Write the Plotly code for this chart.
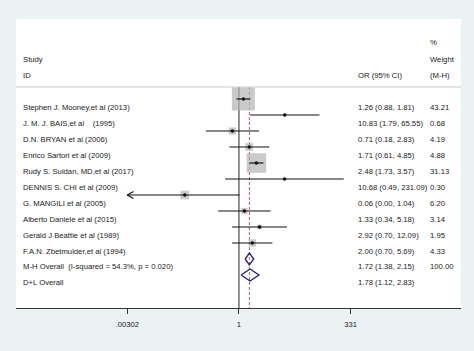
import math
import plotly.graph_objects as go

# ---------------- data ----------------
studies = [
    "Stephen J. Mooney,et al (2013)",
    "J. M. J. BAIS,et al\u00a0\u00a0\u00a0\u00a0(1995)",
    "D.N. BRYAN et al (2006)",
    "Enrico Sartori et al (2009)",
    "Rudy S. Suidan, MD,et al (2017)",
    "DENNIS S. CHI et al (2009)",
    "G. MANGILI et al (2005)",
    "Alberto Daniele et al (2015)",
    "Gerald J Beattie et al (1989)",
    "F.A.N. Zbetmulder,et al (1994)",
]
odds_ratio = [1.26, 10.83, 0.71, 1.71, 2.48, 10.68, 0.06, 1.33, 2.92, 2.00]
ci_low = [0.88, 1.79, 0.18, 0.61, 1.73, 0.49, 0.002, 0.34, 0.70, 0.70]
ci_high = [1.81, 65.55, 2.83, 4.85, 3.57, 231.09, 1.04, 5.18, 12.09, 5.69]
weights = [43.21, 0.68, 4.19, 4.88, 31.13, 0.30, 6.20, 3.14, 1.95, 4.33]

overall_labels = ["M-H Overall\u00a0\u00a0(I-squared = 54.3%, p = 0.020)", "D+L Overall"]
overall_or = [1.72, 1.78]
overall_low = [1.38, 1.12]
overall_high = [2.15, 2.83]
overall_weight = ["100.00", ""]

tick_vals = [1 / 331, 1, 331]
tick_text = [".00302", "1", "331"]

# ---------------- style ----------------
FONT = "Liberation Sans, Arial, sans-serif"
FS = 7.7
TXT = "#1a1a1a"
BOX = "#b4b4b4"
NAVY = "#1f1f78"
DASH = "#c8506e"
BG = "#eaf2f3"
BOX_K = 3.5          # px per sqrt(weight)
ARROW_DEC = 0.14     # arrow length in decades
ARROW_H = 0.22       # arrow half height (rows)
DIA_H = 0.375        # diamond half height (rows)
Y_TOP, Y_BOT = -5.0, 13.0625
HDR_LINE = -0.75

n = len(studies)
rows = list(range(n))
clip_lo = min(tick_vals)
clip_hi = max(tick_vals)

fig = go.Figure()

# null line and overall (dashed) line
fig.add_trace(go.Scatter(x=[1, 1], y=[HDR_LINE, Y_BOT], mode="lines",
                         line=dict(color="#222222", width=1), hoverinfo="skip"))
fig.add_trace(go.Scatter(x=[overall_or[0], overall_or[0]], y=[HDR_LINE, Y_BOT], mode="lines",
                         line=dict(color=DASH, width=1, dash="3px,2px"), hoverinfo="skip"))

# weight boxes
fig.add_trace(go.Scatter(x=odds_ratio, y=rows, mode="markers",
                         marker=dict(symbol="square", color=BOX,
                                     size=[BOX_K * math.sqrt(w) for w in weights],
                                     line=dict(width=0)),
                         hoverinfo="skip"))

# CI lines and arrows
for i in range(n):
    lo = max(ci_low[i], clip_lo)
    hi = min(ci_high[i], clip_hi)
    fig.add_trace(go.Scatter(x=[lo, hi], y=[i, i], mode="lines",
                             line=dict(color="#111111", width=1.2), hoverinfo="skip"))
    if ci_low[i] < clip_lo:
        back = clip_lo * 10 ** ARROW_DEC
        fig.add_trace(go.Scatter(x=[back, clip_lo, back], y=[i - ARROW_H, i, i + ARROW_H],
                                 mode="lines", line=dict(color="#111111", width=1.1),
                                 hoverinfo="skip"))

# point estimates
fig.add_trace(go.Scatter(x=odds_ratio, y=rows, mode="markers",
                         marker=dict(symbol="circle", color="#111111", size=3.4),
                         hoverinfo="skip"))

# overall diamonds
for j in range(len(overall_or)):
    r = n + j
    fig.add_trace(go.Scatter(
        x=[overall_low[j], overall_or[j], overall_high[j], overall_or[j], overall_low[j]],
        y=[r, r - DIA_H, r, r + DIA_H, r],
        mode="lines", fill="toself", fillcolor="rgba(255,255,255,0)",
        line=dict(color=NAVY, width=1.3), hoverinfo="skip"))

# ---------------- text ----------------
L = 16
W = 474 - 16 - 13
def px(x):
    return (x - L) / W

X_STUDY, X_OR, X_W = px(21), px(356), px(428)
TXT_OFF = 0.5

ann = []
def add(x, y, t):
    ann.append(dict(x=x, y=y, xref="paper", yref="y", text=t, showarrow=False,
                    xanchor="left", yanchor="middle",
                    font=dict(family=FONT, size=FS, color=TXT)))

add(X_STUDY, -2.5, "Study")
add(X_STUDY, -1.5, "ID")
add(X_OR, -1.5, "OR (95% CI)")
add(X_W, -3.55, "%")
add(X_W, -2.5, "Weight")
add(X_W, -1.5, "(M-H)")

for i in range(n):
    add(X_STUDY, i + TXT_OFF, studies[i])
    add(X_OR, i + TXT_OFF, f"{odds_ratio[i]:.2f} ({ci_low[i]:.2f}, {ci_high[i]:.2f})")
    add(X_W, i + TXT_OFF, f"{weights[i]:.2f}")
for j in range(len(overall_or)):
    r = n + j + TXT_OFF - 0.05
    add(X_STUDY, r, overall_labels[j])
    add(X_OR, r, f"{overall_or[j]:.2f} ({overall_low[j]:.2f}, {overall_high[j]:.2f})")
    if overall_weight[j]:
        add(X_W, r, overall_weight[j])

fig.update_layout(
    width=474, height=351, autosize=False,
    margin=dict(l=16, r=13, t=19, b=43),
    paper_bgcolor=BG, plot_bgcolor="white",
    showlegend=False,
    annotations=ann,
    shapes=[dict(type="line", xref="paper", yref="y", x0=0, x1=1,
                 y0=HDR_LINE, y1=HDR_LINE, line=dict(color="#c8c8c8", width=1))],
    xaxis=dict(type="log", range=[-5.03, 5.01], showgrid=False, zeroline=False,
               showline=True, linecolor="#333333", linewidth=1,
               tickmode="array", tickvals=tick_vals, ticktext=tick_text,
               ticks="outside", ticklen=5, tickcolor="#333333", ticklabelstandoff=4,
               tickfont=dict(family=FONT, size=FS, color=TXT), fixedrange=True),
    yaxis=dict(range=[Y_BOT, Y_TOP], visible=False, showgrid=False, zeroline=False,
               fixedrange=True),
)

fig.write_html("out.html")
